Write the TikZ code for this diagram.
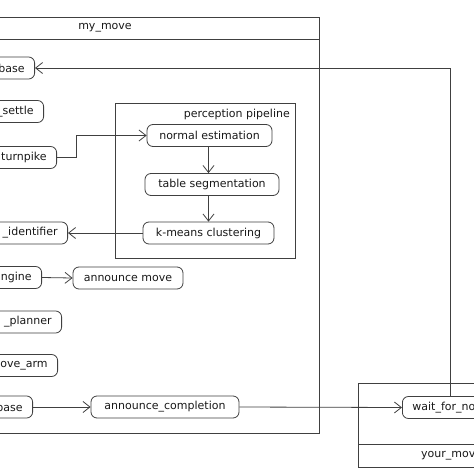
\documentclass[tikz,border=0pt]{standalone}
\usepackage{fontspec}
\setmainfont{DejaVu Sans}
\usetikzlibrary{arrows.meta}
\begin{document}
\begin{tikzpicture}[x=1pt,y=-1pt,
  line/.style={draw=black!75, line width=0.8pt},
  arr/.style={line, -{Straight Barb[length=7pt,width=11pt]}},
  act/.style={draw=black!75, line width=0.8pt, rounded corners=6pt, minimum height=22pt, inner xsep=10pt, inner ysep=0pt, font=\fontsize{11}{12}\selectfont, text=black!90},
  cut/.style={act, text width=#1, align=right, anchor=east},
  frame/.style={draw=black!75, line width=0.8pt},
  lbl/.style={font=\fontsize{11}{12}\selectfont, text=black!90, inner sep=0pt}
]
\useasboundingbox (0,0) rectangle (474,474);
\clip (0,0) rectangle (474,474);
\fill[white] (0,0) rectangle (474,474);

% my_move frame
\draw[frame] (-110,17) rectangle (319,433);
\draw[frame] (-110,39) -- (319,39);
\node[lbl] (mt) at (105,28) {my\_move};

% left column (cut) nodes
\node[cut=80pt] (b1) at (35,68) {base};
\node[cut=80pt] (st) at (44,111.5) {\_settle};
\node[cut=80pt] (tp) at (57,157.5) {turnpike};
\node[cut=80pt] (id) at (68,233) {\_identifier};
\node[cut=80pt] (en) at (42,277.5) {ngine};
\node[cut=80pt] (pl) at (62,322) {\_planner};
\node[cut=80pt] (ma) at (58,365.5) {ove\_arm};
\node[cut=80pt] (b2) at (33,407) {base};

% perception pipeline
\draw[frame] (115,103) rectangle (295,258);
\node[lbl, anchor=east] (pt) at (290,114) {perception pipeline};
\node[act, minimum width=125pt] (ne) at (209.5,135.5) {normal estimation};
\node[act, minimum width=134pt] (ts) at (212,184.5) {table segmentation};
\node[act, minimum width=131pt] (kc) at (208.5,233) {k-means clustering};

\node[act, minimum width=110pt] (am) at (128,278) {announce move};
\node[act, minimum width=148pt] (ac) at (165,407) {announce\_completion};

% your_move frame
\draw[frame] (358,383) rectangle (520,467);
\draw[frame] (358,444) -- (520,444);
\node[lbl, anchor=west] (yt) at (421,456) {your\_move};
\node[act, anchor=west, text width=90pt, align=left] (wf) at (402,407.5) {wait\_for\_no};

% connectors
\coordinate (c1) at (450,68);
\coordinate (c2) at (76,0);
\draw[arr] (wf.north -| c1) -- (c1) -- (b1.east);
\draw[arr] (tp.east) -- (tp.east -| c2) -- (c2 |- ne.west) -- (ne.west);
\draw[arr] (ne.south -| kc) -- (ts.north -| kc);
\draw[arr] (ts.south -| kc) -- (kc.north);
\draw[arr] (kc.west) -- (id.east);
\draw[arr] (en.east) -- (am.west);
\draw[arr] (b2.east) -- (ac.west);
\draw[arr] (ac.east) -- (wf.west);
\end{tikzpicture}
\end{document}
